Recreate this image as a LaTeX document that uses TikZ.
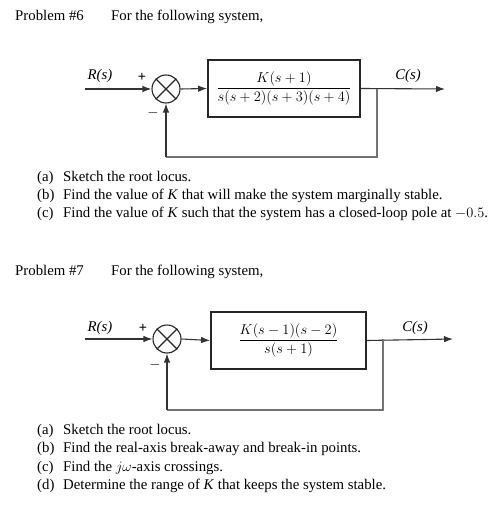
\documentclass[tikz,border=0pt]{standalone}
\usepackage{amsmath}
\usepackage{fontspec}
\setmainfont{Liberation Serif}
\usetikzlibrary{arrows.meta}
\newcommand{\itemlab}[1]{\makebox[26pt][l]{#1}}
\begin{document}
\begin{tikzpicture}[x=1pt,y=-1pt,
  every node/.style={font=\fontsize{14.8}{17}\selectfont, inner sep=0pt},
  sig/.style={draw=black!80, line width=1.1pt, -{Latex[length=9pt,width=6.5pt]}},
  fb/.style={draw=black!55, line width=1.1pt},
  blockbox/.style={draw=black!85, line width=1.8pt, minimum width=152pt, minimum height=57pt, font=\fontsize{14.4}{17}\selectfont},
  sumj/.style={circle, draw=black!85, line width=1.1pt, minimum size=28pt},
  lbl/.style={anchor=base west},
  sgn/.style={font=\fontsize{14.4}{16}\selectfont}
]
\useasboundingbox (0,0) rectangle (497,513);
% ---------- Problem 6 ----------
\node[lbl] (p6) at (15,21) {Problem \#6};
\node[lbl] (p6t) at (111,21) {For the following system,};
\node[sumj] (s1) at (166,89) {};
\draw[line width=1.1pt, black!85] (s1.north west) -- (s1.south east) (s1.north east) -- (s1.south west);
\node[blockbox] (b1) at (284,88.5) {$\dfrac{K(s+1)}{s(s+2)(s+3)(s+4)}$};
\coordinate (in1) at (85,89);
\coordinate (out1) at (445,89);
\coordinate (br1) at (377,89);
\coordinate (fbr1) at (377,157);
\coordinate (fbl1) at (166,157);
\draw[sig] (in1) -- (s1.west);
\draw[sig] (s1.east) -- (b1.west);
\draw[sig] (b1.east) -- (out1);
\draw[fb] (br1) -- (fbr1) -- (fbl1);
\draw[sig] (fbl1) -- (s1.south);
\node (r1) at (100,76) {\textit{R(s)}};
\node (c1) at (408,76) {\textit{C(s)}};
\node[sgn] (pl1) at (142,77) {\textbf{+}};
\node[sgn] (mi1) at (153,113) {$-$};
\node[lbl] (a6) at (37,181) {\itemlab{(a)}Sketch the root locus.};
\node[lbl] (b6) at (37,199) {\itemlab{(b)}Find the value of \textit{K} that will make the system marginally stable.};
\node[lbl] (c6) at (37,217) {\itemlab{(c)}Find the value of \textit{K} such that the system has a closed-loop pole at $-0.5$.};
% ---------- Problem 7 ----------
\node[lbl] (p7) at (15,275) {Problem \#7};
\node[lbl] (p7t) at (111,275) {For the following system,};
\node[sumj] (s2) at (167,339) {};
\draw[line width=1.1pt, black!85] (s2.north west) -- (s2.south east) (s2.north east) -- (s2.south west);
\node[blockbox, minimum width=155pt] (b2) at (288.5,340.5) {$\dfrac{K(s-1)(s-2)}{s(s+1)}$};
\coordinate (in2) at (85,339);
\coordinate (out2) at (453,339);
\coordinate (br2) at (383,339);
\coordinate (fbr2) at (383,410);
\coordinate (fbl2) at (167,410);
\draw[sig] (in2) -- (s2.west);
\draw[sig] (s2.east) -- (b2.west);
\draw[sig] (b2.east) -- (out2);
\draw[fb] (br2) -- (fbr2) -- (fbl2);
\draw[sig] (fbl2) -- (s2.south);
\node (r2) at (100,328) {\textit{R(s)}};
\node (c2) at (415,328) {\textit{C(s)}};
\node[sgn] (pl2) at (143,328) {\textbf{+}};
\node[sgn] (mi2) at (155,365) {$-$};
\node[lbl] (a7) at (37,434) {\itemlab{(a)}Sketch the root locus.};
\node[lbl] (b7) at (37,452) {\itemlab{(b)}Find the real-axis break-away and break-in points.};
\node[lbl] (c7) at (37,471) {\itemlab{(c)}Find the $j\omega$-axis crossings.};
\node[lbl] (d7) at (37,489) {\itemlab{(d)}Determine the range of \textit{K} that keeps the system stable.};
\end{tikzpicture}
\end{document}
